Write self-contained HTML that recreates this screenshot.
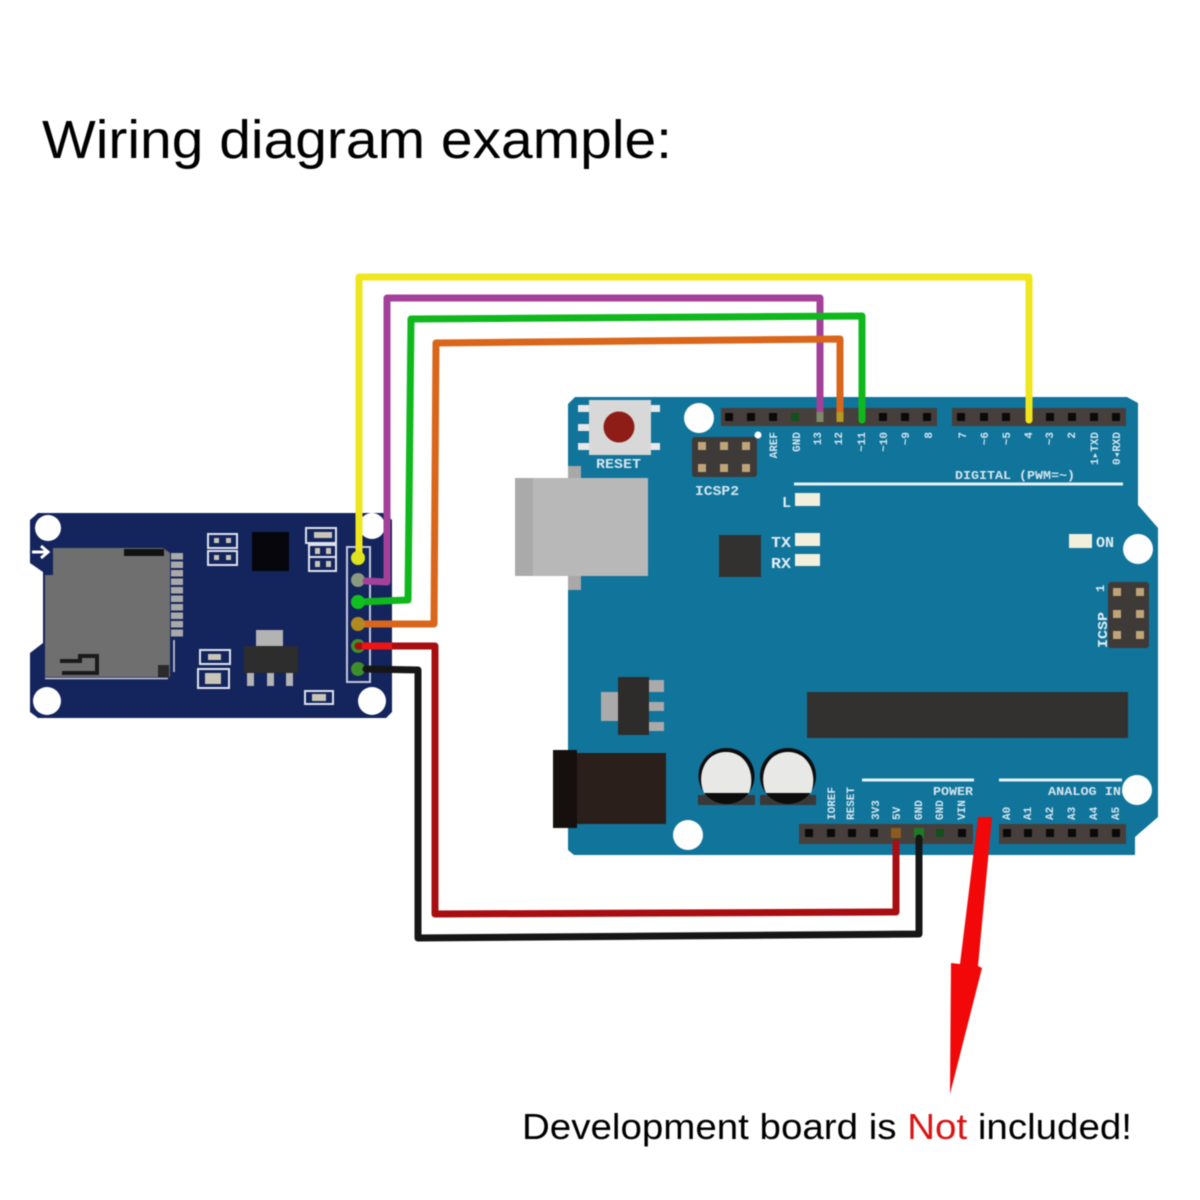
<!DOCTYPE html>
<html><head><meta charset="utf-8"><style>html,body{margin:0;padding:0;background:#fff}svg{display:block;filter:blur(.55px)}text{font-family:"Liberation Sans",sans-serif}text.m,.m text{font-family:"Liberation Mono",monospace;font-weight:bold}</style></head><body>
<svg width="1200" height="1200" viewBox="0 0 1200 1200" xmlns="http://www.w3.org/2000/svg">
<rect width="1200" height="1200" fill="#fff"/>
<text x="42" y="158" font-size="54" fill="#000" textLength="630" lengthAdjust="spacingAndGlyphs">Wiring diagram example:</text>

<!-- SD module -->
<path d="M38 513H385L392 520V712L386 718H38L30 712V653L43 643V572L30 563V520Z" fill="#14245c"/>
<g fill="#fff"><circle cx="48" cy="528" r="13"/><circle cx="372" cy="526" r="13"/><circle cx="47" cy="701" r="14"/><circle cx="372" cy="701" r="14"/></g>
<path d="M53 548H163L170 553V677H45V575H53Z" fill="#6f6f6f"/>
<path d="M32 552H47M41 546L48 552L41 558" stroke="#fff" stroke-width="3" fill="none"/>
<rect x="124" y="549" width="40" height="7" fill="#111"/>
<path d="M60 661H80V656H97V673H62" fill="none" stroke="#1a1a1a" stroke-width="4"/>
<rect x="158" y="665" width="11" height="12" fill="#2a2a2a"/>
<path d="M45 678.5H168M174 640V672" stroke="#c9cbd6" stroke-width="1.6" fill="none"/>
<g fill="#a9a9a9"><rect x="171" y="553" width="12" height="6.5"/><rect x="171" y="561.5" width="12" height="6.5"/><rect x="171" y="570" width="12" height="6.5"/><rect x="171" y="578.5" width="12" height="6.5"/><rect x="171" y="587" width="12" height="6.5"/><rect x="171" y="595.5" width="12" height="6.5"/><rect x="171" y="604" width="12" height="6.5"/><rect x="171" y="612.5" width="12" height="6.5"/><rect x="171" y="621" width="12" height="6.5"/><rect x="171" y="629.5" width="12" height="7"/></g>
<g fill="none" stroke="#dfe2ee" stroke-width="2"><rect x="208" y="534" width="29" height="14"/><rect x="208" y="551" width="29" height="14"/><rect x="306" y="528" width="30" height="15"/><rect x="309" y="545" width="27" height="12"/><rect x="309" y="557" width="27" height="14"/><rect x="200" y="650" width="30" height="14"/><rect x="198" y="669" width="31" height="19"/><rect x="305" y="691" width="28" height="13"/></g>
<g fill="#c9c6b8"><rect x="214" y="538" width="5" height="5"/><rect x="226" y="538" width="5" height="5"/><rect x="214" y="555" width="5" height="5"/><rect x="226" y="555" width="5" height="5"/><rect x="314" y="532" width="18" height="6"/><rect x="315" y="548" width="5" height="6"/><rect x="326" y="548" width="5" height="6"/><rect x="315" y="561" width="5" height="6"/><rect x="326" y="561" width="5" height="6"/><rect x="208" y="654" width="13" height="6"/><rect x="205" y="673" width="16" height="11"/><rect x="312" y="694" width="14" height="7"/></g>
<rect x="252" y="532" width="37" height="39" fill="#06060c"/>
<rect x="256" y="630" width="27" height="16" fill="#b3b3b3"/>
<rect x="244" y="646" width="54" height="27" fill="#2d2d2d"/>
<g fill="#b3b3b3"><rect x="247" y="673" width="7" height="13"/><rect x="267" y="673" width="7" height="13"/><rect x="286" y="673" width="7" height="13"/></g>
<rect x="347" y="547" width="23" height="135" fill="#14245c" stroke="#c3c9dc" stroke-width="2"/>
<g fill="#3e8f2c"><circle cx="358" cy="558" r="7"/><circle cx="358" cy="580" r="7" fill="#8a9a80"/><circle cx="358" cy="602" r="7"/><circle cx="358" cy="624" r="7" fill="#a08a20"/><circle cx="358" cy="646" r="7"/><circle cx="358" cy="669" r="7"/></g>

<!-- Arduino -->
<path d="M575 397H1127L1138 403V505L1158 528V817L1135 837V855H574L568 850V404Z" fill="#10749b"/>
<g fill="#fff"><circle cx="699" cy="418" r="15"/><circle cx="1138" cy="549" r="15"/><circle cx="1137" cy="790" r="15"/><circle cx="688" cy="835" r="15"/></g>

<!-- reset -->
<g fill="#e8e8e8"><rect x="578" y="405" width="12" height="7"/><rect x="578" y="424" width="12" height="7"/><rect x="578" y="443" width="12" height="7"/><rect x="650" y="405" width="10" height="7"/><rect x="650" y="443" width="10" height="7"/></g>
<rect x="589" y="400" width="62" height="55" fill="#d8d8d8"/>
<circle cx="619" cy="427" r="15.5" fill="#8e1c17"/>
<text class="m" x="596" y="468" font-size="14" fill="#d5e6ee" textLength="45" lengthAdjust="spacingAndGlyphs">RESET</text>

<!-- USB -->
<rect x="568" y="466" width="13" height="124" fill="#a8a8a8"/>
<rect x="515" y="478" width="133" height="98" fill="#b8b8b8"/>
<path d="M515 478H533V576H515Z" fill="#aaa"/>

<!-- top headers -->
<rect x="721" y="408" width="216" height="18" fill="#473f3b"/>
<rect x="952" y="408" width="174" height="18" fill="#473f3b"/>
<g fill="#0a0a0a"><rect x="725" y="413" width="8" height="8"/><rect x="747" y="413" width="8" height="8"/><rect x="769" y="413" width="8" height="8"/><rect x="791" y="413" width="8" height="8" fill="#14501c"/><rect x="879" y="413" width="8" height="8"/><rect x="901" y="413" width="8" height="8"/><rect x="923" y="413" width="8" height="8"/><rect x="957" y="413" width="8" height="8"/><rect x="980" y="413" width="8" height="8"/><rect x="1002" y="413" width="8" height="8"/><rect x="1046" y="413" width="8" height="8"/><rect x="1068" y="413" width="8" height="8"/><rect x="1090" y="413" width="8" height="8"/><rect x="1112" y="413" width="8" height="8"/></g>

<!-- bottom headers -->
<rect x="799" y="824" width="174" height="20" fill="#473f3b"/>
<rect x="999" y="824" width="127" height="20" fill="#473f3b"/>
<g fill="#0a0a0a"><rect x="805" y="829" width="8" height="8"/><rect x="827" y="829" width="8" height="8"/><rect x="848" y="829" width="8" height="8"/><rect x="870" y="829" width="8" height="8"/><rect x="936" y="829" width="8" height="8" fill="#14501c"/><rect x="958" y="829" width="8" height="8"/><rect x="1003" y="829" width="8" height="8"/><rect x="1024" y="829" width="8" height="8"/><rect x="1046" y="829" width="8" height="8"/><rect x="1068" y="829" width="8" height="8"/><rect x="1090" y="829" width="8" height="8"/><rect x="1112" y="829" width="8" height="8"/></g>

<!-- ICSP -->
<rect x="692" y="437" width="65" height="40" rx="3" fill="#3d3a38"/>
<rect x="1108" y="582" width="41" height="66" rx="3" fill="#3d3a38"/>
<g fill="#bfa478"><rect x="698" y="442" width="8" height="8"/><rect x="720" y="442" width="8" height="8"/><rect x="742" y="442" width="8" height="8"/><rect x="698" y="464" width="8" height="8"/><rect x="720" y="464" width="8" height="8"/><rect x="742" y="464" width="8" height="8"/><rect x="1113" y="588" width="8" height="8"/><rect x="1136" y="588" width="8" height="8"/><rect x="1113" y="610" width="8" height="8"/><rect x="1136" y="610" width="8" height="8"/><rect x="1113" y="631" width="8" height="8"/><rect x="1136" y="631" width="8" height="8"/></g>
<circle cx="758" cy="435" r="3.5" fill="#fff"/>
<text class="m" x="695" y="495" font-size="14" fill="#d5e6ee" textLength="44" lengthAdjust="spacingAndGlyphs">ICSP2</text>
<text class="m" transform="translate(1107,648) rotate(-90)" font-size="14" fill="#e3eef3" textLength="36" lengthAdjust="spacingAndGlyphs">ICSP</text>
<text class="m" transform="translate(1104,592) rotate(-90)" font-size="12" fill="#e3eef3">1</text>

<!-- labels and lines -->
<rect x="794" y="482.5" width="329" height="3" fill="#e6f2f6"/>
<rect x="862" y="778.5" width="112" height="3" fill="#e6f2f6"/>
<rect x="999" y="778.5" width="123" height="3" fill="#e6f2f6"/>
<text class="m" x="955" y="479" font-size="12" fill="#d5e6ee" textLength="120" lengthAdjust="spacingAndGlyphs">DIGITAL (PWM=~)</text>
<text class="m" x="933" y="795" font-size="12" fill="#d5e6ee" textLength="40" lengthAdjust="spacingAndGlyphs">POWER</text>
<text class="m" x="1048" y="795" font-size="12" fill="#d5e6ee" textLength="73" lengthAdjust="spacingAndGlyphs">ANALOG IN</text>
<g class="m" font-size="11" fill="#d5e6ee" text-anchor="end">
<text transform="translate(777,432) rotate(-90)">AREF</text><text transform="translate(800,432) rotate(-90)">GND</text><text transform="translate(821,432) rotate(-90)">13</text><text transform="translate(842,432) rotate(-90)">12</text><text transform="translate(865,432) rotate(-90)">~11</text><text transform="translate(887,432) rotate(-90)">~10</text><text transform="translate(909,432) rotate(-90)">~9</text><text transform="translate(932,432) rotate(-90)">8</text><text transform="translate(966,432) rotate(-90)">7</text><text transform="translate(988,432) rotate(-90)">~6</text><text transform="translate(1010,432) rotate(-90)">~5</text><text transform="translate(1032,432) rotate(-90)">4</text><text transform="translate(1053,432) rotate(-90)">~3</text><text transform="translate(1075,432) rotate(-90)">2</text><text transform="translate(1098,432) rotate(-90)">1▸TXD</text><text transform="translate(1120,432) rotate(-90)">0◂RXD</text>
</g>
<g class="m" font-size="11" fill="#d5e6ee">
<text transform="translate(835,820) rotate(-90)">IOREF</text><text transform="translate(854,820) rotate(-90)">RESET</text><text transform="translate(879,820) rotate(-90)">3V3</text><text transform="translate(900,820) rotate(-90)">5V</text><text transform="translate(922,820) rotate(-90)">GND</text><text transform="translate(943,820) rotate(-90)">GND</text><text transform="translate(965,820) rotate(-90)">VIN</text>
<text transform="translate(1010,820) rotate(-90)">A0</text><text transform="translate(1031,820) rotate(-90)">A1</text><text transform="translate(1053,820) rotate(-90)">A2</text><text transform="translate(1075,820) rotate(-90)">A3</text><text transform="translate(1097,820) rotate(-90)">A4</text><text transform="translate(1119,820) rotate(-90)">A5</text>
</g>

<!-- LEDs -->
<g fill="#f3efdd"><rect x="795" y="493" width="25" height="13"/><rect x="795" y="533" width="25" height="13"/><rect x="795" y="554" width="25" height="12"/><rect x="1069" y="534" width="23" height="14"/></g>
<g class="m" font-size="15" fill="#e3eef3"><text x="782" y="507">L</text><text x="771" y="547" textLength="20" lengthAdjust="spacingAndGlyphs">TX</text><text x="771" y="568" textLength="20" lengthAdjust="spacingAndGlyphs">RX</text><text x="1096" y="547" textLength="18" lengthAdjust="spacingAndGlyphs">ON</text></g>
<rect x="719" y="535" width="42" height="42" fill="#333130"/>

<!-- regulator -->
<rect x="601" y="692" width="18" height="29" fill="#aaa"/>
<g fill="#aaa"><rect x="648" y="680" width="16" height="12"/><rect x="648" y="702" width="16" height="9"/><rect x="648" y="722" width="16" height="9"/></g>
<rect x="618" y="677" width="31" height="58" fill="#2e2c2b"/>
<rect x="807" y="692" width="321" height="46" fill="#333130"/>

<!-- jack -->
<rect x="576" y="753" width="90" height="71" fill="#2a1f1b"/>
<rect x="553" y="750" width="24" height="78" fill="#150f0d"/>

<!-- caps -->
<path d="M698 795H755V805H698Z" fill="#3a3838"/><path d="M760 795H816V805H760Z" fill="#3a3838"/>
<circle cx="726.5" cy="776" r="28" fill="#0c0c0c"/><circle cx="788" cy="776" r="28" fill="#0c0c0c"/>
<path d="M704 793C696 775 705 752 726 752C747 752 756 775 749 793Z" fill="#e8e8e6"/><path d="M766 793C758 775 767 752 788 752C809 752 818 775 811 793Z" fill="#e8e8e6"/>

<!-- wires -->
<rect x="891" y="828" width="10" height="10" fill="#8a5c1e"/>
<rect x="914" y="828" width="10" height="10" fill="#1d7a26"/>
<g fill="none" stroke-width="7" stroke-linejoin="round" stroke-linecap="round">
<path d="M359 558V277H1029V420" stroke="#f0e61e"/>
<path d="M366 581L387 582V298H820V412" stroke="#a3409a"/>
<path d="M358 602L408 600L411 319L862 316V420" stroke="#0fb81c"/>
<path d="M358 624L434 624L436 343L840 339V412" stroke="#d9661a"/>
<path d="M358 646L435 646V914L896 912V843" stroke="#a80d12"/>
<path d="M366 669L418 670V938L919 934V838" stroke="#161616"/>
</g>
<path d="M362 646H392" stroke="#ee1414" stroke-width="7"/>
<rect x="816.5" y="412" width="7" height="10" fill="#7c8a68"/>
<rect x="836.5" y="412" width="7" height="10" fill="#b39a20"/>
<circle cx="358" cy="558" r="7" fill="#dfe31e"/><circle cx="358" cy="602" r="7" fill="#0fc020"/><circle cx="358" cy="624" r="7" fill="#b08a20"/>

<!-- red arrow -->
<path d="M978 817H992L978 966L982 968L950 1094L951 963L960 964Z" fill="#f20808"/>

<text x="522" y="1139" font-size="36" fill="#000" textLength="610" lengthAdjust="spacingAndGlyphs">Development board is <tspan fill="#d81414">Not</tspan> included!</text>
</svg>
</body></html>
